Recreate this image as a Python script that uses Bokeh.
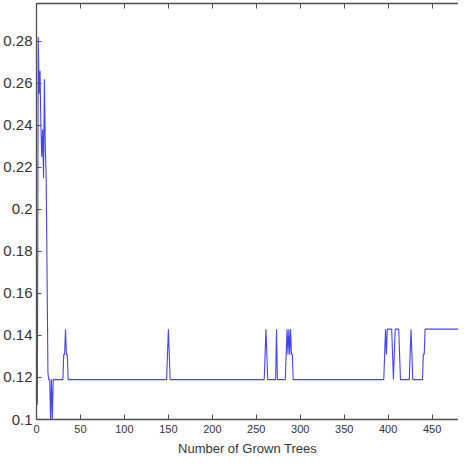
from bokeh.plotting import figure
from bokeh.models import LinearAxis, FixedTicker, CustomJSTickFormatter, Range1d
from bokeh.embed import file_html
from bokeh.resources import INLINE

# Number of grown trees (change points) and the error at each
trees = [1, 2, 3, 4, 5, 6, 7, 8, 9, 10, 11, 12, 13, 14, 15, 16, 17, 18, 19,
         30, 31, 32, 33, 34, 35, 36,
         148, 149, 150, 151, 152,
         259, 260, 261, 262, 263,
         272, 273, 274,
         283, 284, 285, 286, 287, 288, 289, 290, 291, 292,
         395, 396, 397, 398, 399, 404, 405, 406, 407, 408, 412, 413, 414,
         424, 425, 426, 427, 428, 439, 440, 441, 442, 500]
errors = [0.107, 0.282, 0.255, 0.266, 0.240, 0.225, 0.238, 0.215, 0.262, 0.230,
          0.215, 0.170, 0.122, 0.119, 0.119, 0.100, 0.119, 0.100, 0.119,
          0.119, 0.131, 0.131, 0.143, 0.131, 0.131, 0.119,
          0.119, 0.131, 0.143, 0.131, 0.119,
          0.119, 0.131, 0.143, 0.131, 0.119,
          0.119, 0.143, 0.119,
          0.119, 0.131, 0.143, 0.131, 0.143, 0.131, 0.143, 0.131, 0.131, 0.119,
          0.119, 0.131, 0.143, 0.131, 0.143, 0.143, 0.131, 0.119, 0.131, 0.143,
          0.143, 0.131, 0.119,
          0.119, 0.131, 0.143, 0.131, 0.119, 0.119, 0.131, 0.131, 0.143, 0.143]

x_ticks = [0, 50, 100, 150, 200, 250, 300, 350, 400, 450]
y_ticks = [0.10, 0.12, 0.14, 0.16, 0.18, 0.20, 0.22, 0.24, 0.26, 0.28]
x_label = "Number of Grown Trees"

FONT = "Liberation Sans"
AX = "#4d4d4d"

p = figure(width=458, height=458, output_backend="svg", toolbar_location=None,
           x_range=Range1d(0, 480), y_range=Range1d(0.1, 0.298),
           min_border_left=6, min_border_right=0, min_border_top=3, min_border_bottom=0,
           x_axis_label=x_label)
p.outline_line_color = None
p.grid.visible = False
p.background_fill_color = "white"
p.border_fill_color = "white"

p.line(trees, errors, line_color="#4444ee", line_width=1.1)

fmt = CustomJSTickFormatter(code="var s = tick.toFixed(2); if (s.endsWith('0')) s = s.slice(0, -1); return s;")

for ax in p.xaxis:
    ax.ticker = FixedTicker(ticks=x_ticks)
for ax in p.yaxis:
    ax.ticker = FixedTicker(ticks=y_ticks)
    ax.formatter = fmt

top = LinearAxis(ticker=FixedTicker(ticks=x_ticks),
                 formatter=CustomJSTickFormatter(code="return '';"),
                 major_label_standoff=0)
p.add_layout(top, "above")

for ax in list(p.xaxis) + list(p.yaxis):
    ax.axis_line_color = AX
    ax.axis_line_width = 1.3
    ax.major_tick_line_color = AX
    ax.major_tick_in = 5
    ax.major_tick_out = 0
    ax.minor_tick_line_color = None
    ax.major_label_text_font = FONT
    ax.major_label_text_color = "#333333"
    ax.axis_label_text_font = FONT
    ax.axis_label_text_font_style = "normal"
    ax.axis_label_text_color = "#333333"

for ax in p.yaxis:
    ax.major_label_text_font_size = "15px"
    ax.major_label_standoff = 4
p.xaxis[0].major_label_text_font_size = "15px"
p.xaxis[0].major_label_standoff = 3
p.xaxis[0].axis_label_text_font_size = "13px"
p.xaxis[0].axis_label_standoff = 0

open("out.html", "w").write(file_html(p, INLINE))
